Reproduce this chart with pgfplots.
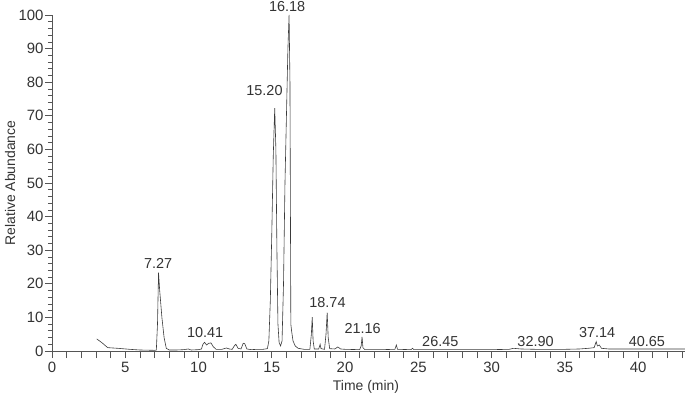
\documentclass[border=0pt]{standalone}
\usepackage{pgfplots}
\pgfplotsset{compat=1.18}
\usepackage{fontspec}
\setmainfont{Liberation Sans}
\definecolor{axgray}{HTML}{555555}
\definecolor{txtgray}{HTML}{333333}
\definecolor{trace}{HTML}{3A3A3A}
\begin{document}
\begin{tikzpicture}
\begin{axis}[
  at={(0,0)}, anchor=south west,
  scale only axis, width=633bp, height=336bp,
  xmin=0, xmax=43.2, ymin=0, ymax=100,
  axis lines*=left,
  axis line style={axgray, line width=0.7pt},
  tick align=outside,
  major tick length=7bp, minor tick length=4bp,
  tick style={axgray, line width=0.7pt},
  xtick={0,5,...,40},
  extra x ticks={1,2,3,4,6,7,8,9,11,12,13,14,16,17,18,19,21,22,23,24,26,27,28,29,31,32,33,34,36,37,38,39,41,42,43},
  extra x tick labels={},
  extra x tick style={tick style={axgray, line width=0.7pt}},
  ytick={0,10,...,100},
  minor y tick num=4,
  /pgf/number format/assume math mode=true,
  ticklabel style={font=\fontsize{15}{17}\selectfont, text=txtgray},
  xticklabel style={yshift=-1bp},
  yticklabel style={xshift=2bp},
  xlabel={Time (min)}, ylabel={Relative Abundance},
  label style={font=\fontsize{14}{16}\selectfont, text=txtgray},
  xlabel style={at={(axis description cs:0.496,-0.107)}, anchor=center},
  ylabel style={at={(axis description cs:-0.066,0.5)}, anchor=center},
  clip=false,
]
\addplot[trace, line width=0.6pt] coordinates {
(3.05,3.6) (3.4,2.5) (3.8,1.0) (4.5,0.8) (5.3,0.5) (6.0,0.3) (7.0,0.2) (7.12,0.3)
(7.2,8) (7.27,23.3) (7.35,18) (7.5,10) (7.65,4) (7.8,0.8) (8.0,0.3) (8.5,0.3)
(9.0,0.4) (9.3,0.6) (9.5,0.3) (10.0,0.4) (10.2,0.6) (10.3,2.0) (10.41,2.6)
(10.55,1.8) (10.7,2.3) (10.85,2.4) (11.0,1.3) (11.2,0.5) (11.6,0.5) (11.9,0.9)
(12.1,0.6) (12.3,0.5) (12.45,1.6) (12.55,2.0) (12.7,0.8) (12.9,0.6) (13.05,2.3)
(13.15,2.2) (13.3,0.6) (13.6,0.4) (14.0,0.5) (14.4,0.5) (14.7,0.7) (14.8,3)
(14.9,15) (15.0,35) (15.1,58) (15.2,72.3) (15.28,60) (15.35,30) (15.42,8)
(15.5,2.5) (15.6,1.5) (15.7,3) (15.8,20) (15.9,50) (16.0,70) (16.1,90)
(16.18,100) (16.24,80) (16.3,8) (16.35,6) (16.45,3) (16.6,1.5) (16.8,0.8)
(17.2,0.5) (17.6,0.5) (17.7,5) (17.76,10.1) (17.82,3) (17.9,0.6) (18.2,0.6)
(18.3,2) (18.36,0.7) (18.6,0.5) (18.7,5) (18.78,11.4) (18.85,4) (18.95,0.7)
(19.3,0.6) (19.5,1.2) (19.7,0.6) (20.0,0.5) (21.0,0.4) (21.1,1.5) (21.16,4.2)
(21.22,1.0) (21.35,0.4) (22.5,0.4) (23.4,0.5) (23.5,1.8) (23.58,0.5) (24.5,0.4)
(24.6,0.8) (24.7,0.4) (26,0.4) (28,0.4) (30,0.4) (31.2,0.5) (31.5,0.8) (32,0.6)
(33,0.5) (35,0.5) (36,0.6) (36.6,0.8) (37.0,1.0) (37.14,2.8) (37.22,1.5)
(37.35,1.8) (37.5,0.8) (38,0.6) (40,0.6) (42,0.6) (43.2,0.6)
};
\begin{scope}[every node/.style={font=\fontsize{14.5}{16}\selectfont, text=txtgray}]
\node at (axis cs:16.05,102.4) {16.18};
\node at (axis cs:14.5,77.4) {15.20};
\node at (axis cs:7.24,26.2) {7.27};
\node at (axis cs:10.45,5.4) {10.41};
\node at (axis cs:18.8,14.3) {18.74};
\node at (axis cs:21.2,6.8) {21.16};
\node at (axis cs:26.5,2.7) {26.45};
\node at (axis cs:33.0,2.7) {32.90};
\node at (axis cs:37.2,5.4) {37.14};
\node at (axis cs:40.6,2.7) {40.65};
\end{scope}
\end{axis}
\pgfresetboundingbox
\useasboundingbox (-52bp,-47bp) rectangle (633bp,351bp);
\end{tikzpicture}
\end{document}
